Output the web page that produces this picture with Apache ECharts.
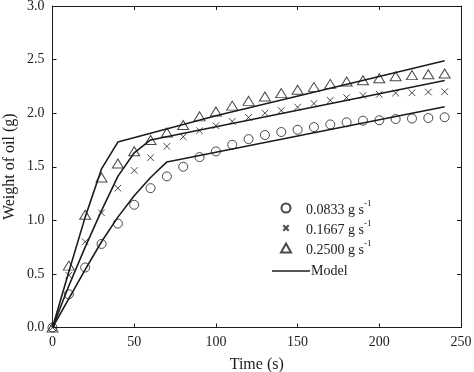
<!DOCTYPE html>
<html>
<head>
<meta charset="utf-8">
<script src="https://cdn.jsdelivr.net/npm/echarts@6/dist/echarts.min.js"></script>
<style>
html,body{margin:0;padding:0;background:#fff;}
#chart{width:474px;height:372px;}
</style>
</head>
<body>
<div id="chart"></div>
<script>
// ---- data ----
const times = [0,10,20,30,40,50,60,70,80,90,100,110,120,130,140,150,160,170,180,190,200,210,220,230,240];
const rate1Name = '0.0833';
const rate2Name = '0.1667';
const rate3Name = '0.2500';
const rate1 = [0,0.31,0.56,0.78,0.97,1.145,1.30,1.41,1.50,1.59,1.643,1.705,1.758,1.796,1.824,1.845,1.87,1.895,1.915,1.93,1.934,1.945,1.95,1.955,1.962];
const rate2 = [0,0.487,0.80,1.07,1.30,1.465,1.585,1.69,1.78,1.836,1.883,1.923,1.96,2.0,2.025,2.057,2.09,2.12,2.145,2.165,2.176,2.188,2.19,2.197,2.20];
const rate3 = [0,0.577,1.052,1.40,1.53,1.645,1.75,1.82,1.89,1.97,2.016,2.07,2.115,2.156,2.187,2.218,2.245,2.273,2.295,2.307,2.326,2.345,2.355,2.363,2.37];
const model1Times = [0,10,20,30,40,50,60,70,240];
const model1 = [0,0.27,0.54,0.80,1.03,1.23,1.40,1.545,2.06];
const model2Times = [0,10,20,30,40,50,60,240];
const model2 = [0,0.39,0.75,1.09,1.41,1.63,1.75,2.304];
const model3Times = [0,10,20,30,40,100,240];
const model3 = [0,0.52,1.03,1.48,1.73,1.975,2.49];
const xTicks = [0,50,100,150,200,250];
const yTicks = ['0.0','0.5','1.0','1.5','2.0','2.5','3.0'];
const xTitle = 'Time (s)';
const yTitle = 'Weight of oil (g)';
const modelName = 'Model';

// ---- chart ----
const FONT = '"Liberation Serif", "Times New Roman", serif';
const INK = '#1c1c1c';
const pairs = (xs, ys) => xs.map((x, i) => [x, ys[i]]);
// × glyph with a little empty margin inside its box
const crossPath = 'path://M0,0M10,10M2,2L8,8M8,2L2,8';

const chart = echarts.init(document.getElementById('chart'), null, {renderer: 'canvas'});

const baseAxis = {
  axisLine: {show: true, onZero: false, lineStyle: {color: INK, width: 1}},
  axisTick: {show: true, inside: true, length: 4, lineStyle: {color: INK}},
  splitLine: {show: false}
};

const scatterStyle = {color: 'rgba(0,0,0,0)', borderColor: INK, borderWidth: 1};
const lineStyle = {color: INK, width: 1.6};

chart.setOption({
  animation: false,
  backgroundColor: '#fff',
  grid: {left: 52.5, right: 13, top: 6, bottom: 44.5, containLabel: false, outerBoundsMode: 'none'},
  xAxis: [
    Object.assign({}, baseAxis, {
      type: 'value', min: xTicks[0], max: xTicks[xTicks.length - 1], interval: 50,
      name: xTitle, nameLocation: 'middle', nameGap: 29, nameMoveOverlap: false,
      nameTextStyle: {fontFamily: FONT, fontSize: 16, color: INK},
      axisLabel: {fontFamily: FONT, fontSize: 14, color: INK, margin: 8,
        formatter: v => String(xTicks[xTicks.indexOf(v)] ?? v)}
    }),
    Object.assign({}, baseAxis, {
      type: 'value', position: 'top', min: xTicks[0], max: xTicks[xTicks.length - 1], interval: 50,
      axisLabel: {show: false}
    })
  ],
  yAxis: [
    Object.assign({}, baseAxis, {
      type: 'value', min: 0, max: 3, interval: 0.5,
      name: yTitle, nameLocation: 'middle', nameGap: 35, nameRotate: 90, nameMoveOverlap: false,
      nameTextStyle: {fontFamily: FONT, fontSize: 16, color: INK},
      axisLabel: {fontFamily: FONT, fontSize: 14, color: INK, margin: 8,
        formatter: v => yTicks[Math.round(v / 0.5)]}
    }),
    Object.assign({}, baseAxis, {
      type: 'value', position: 'right', min: 0, max: 3, interval: 0.5,
      axisLabel: {show: false}
    })
  ],
  legend: [
    {
      orient: 'vertical', left: 275, top: 194, itemGap: 2,
      itemWidth: 10, itemHeight: 9,
      data: [rate1Name, rate2Name, rate3Name],
      formatter: n => '{n|' + n + ' g s}{s|-1}',
      textStyle: {
        fontFamily: FONT, fontSize: 14, color: INK, padding: [0, 0, 0, 10],
        rich: {
          n: {fontFamily: FONT, fontSize: 14, color: INK, lineHeight: 18, verticalAlign: 'bottom'},
          s: {fontFamily: FONT, fontSize: 9, color: INK, lineHeight: 14, verticalAlign: 'top'}
        }
      }
    },
    {
      orient: 'vertical', left: 267, top: 259,
      itemWidth: 38, itemHeight: 1.6,
      data: [{name: modelName, icon: 'rect'}],
      textStyle: {fontFamily: FONT, fontSize: 14, color: INK, padding: [0, 0, 0, -4]}
    }
  ],
  series: [
    {name: modelName, type: 'line', data: pairs(model1Times, model1), symbol: 'none', lineStyle: lineStyle, itemStyle: {color: INK}, z: 2},
    {name: modelName, type: 'line', data: pairs(model2Times, model2), symbol: 'none', lineStyle: lineStyle, itemStyle: {color: INK}, z: 2},
    {name: modelName, type: 'line', data: pairs(model3Times, model3), symbol: 'none', lineStyle: lineStyle, itemStyle: {color: INK}, z: 2},
    {name: rate1Name, type: 'scatter', data: pairs(times, rate1), symbol: 'circle', symbolSize: 9, itemStyle: scatterStyle, z: 3},
    {name: rate2Name, type: 'scatter', data: pairs(times, rate2), symbol: crossPath, symbolSize: 11, itemStyle: scatterStyle, z: 3},
    {name: rate3Name, type: 'scatter', data: pairs(times, rate3), symbol: 'triangle', symbolSize: [11, 9], itemStyle: scatterStyle, z: 3}
  ]
});
</script>
</body>
</html>
